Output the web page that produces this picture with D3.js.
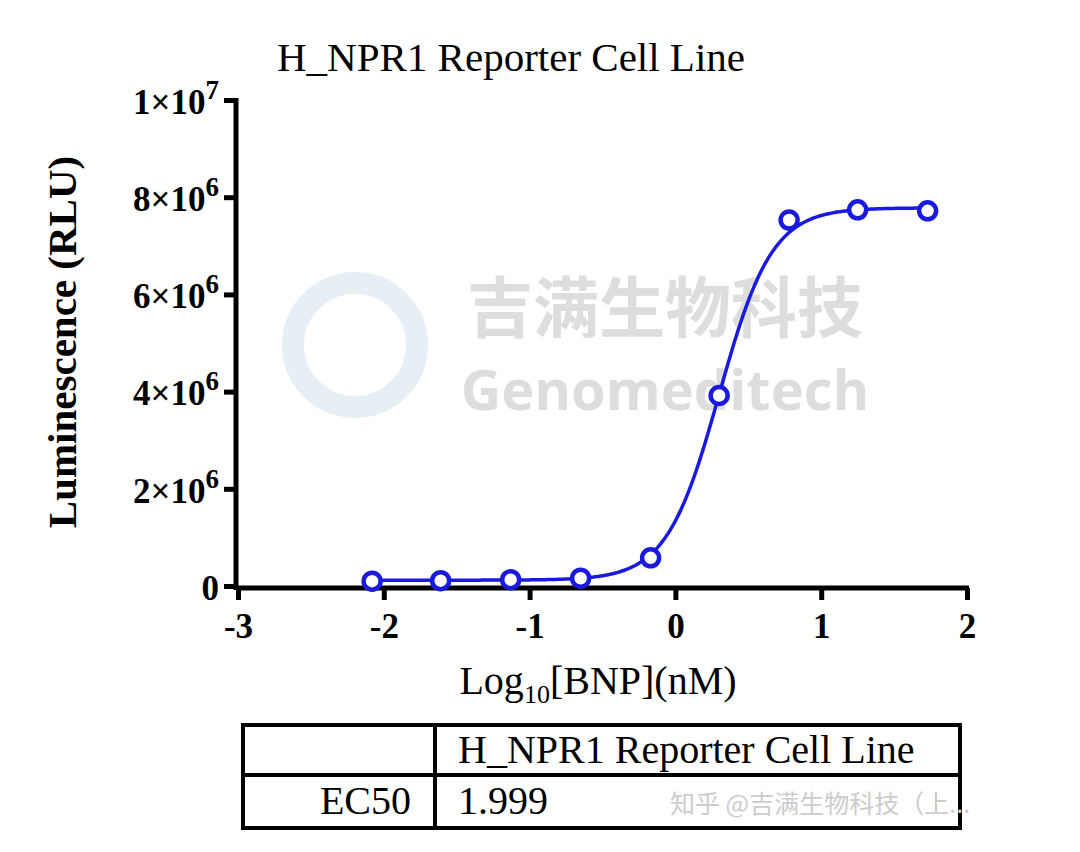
<!DOCTYPE html><html><head><script src="https://cdn.jsdelivr.net/npm/d3@7"></script>
<style>body{margin:0;background:#fff}</style></head><body><svg id="c" width="1080" height="852"></svg>
<script>
const logConc=[-2.08,-1.61,-1.13,-0.65,-0.17,0.30,0.78,1.25,1.73];
const lum=[100000,110000,130000,160000,580000,3920000,7530000,7740000,7720000];
const fitParams={bottom:120000,top:7780000,logEC50:0.301,hill:2.4};
const xTicks=[-3,-2,-1,0,1,2];
const yTicks=[0,2e6,4e6,6e6,8e6,1e7];
const yTickMant=["0","2","4","6","8","1"];
const yTickExp=[null,"6","6","6","6","7"];
const svg=d3.select("#c"),F="'Liberation Serif',serif";
const x=d3.scaleLinear().domain([-3,2]).range([238,967]);
const y=d3.scaleLinear().domain([0,1e7]).range([586,100]);
svg.append("text").attr("x",665).attr("y",332).attr("text-anchor","middle").attr("font-family","'Noto Sans CJK SC'").attr("font-weight",700).attr("font-size",66).attr("fill","#ddd").text("吉满生物科技");
svg.append("text").attr("x",665).attr("y",410).attr("text-anchor","middle").attr("font-family","'Open Sans'").attr("font-weight",700).attr("font-size",56).attr("fill","#ddd").text("Genomeditech");
svg.append("circle").attr("cx",355).attr("cy",345).attr("r",62).attr("fill","none").attr("stroke","#e6f0f4").attr("stroke-width",22);
const gx=svg.append("g").attr("transform","translate(0,588)").call(d3.axisBottom(x).tickValues(xTicks).tickSize(12).tickFormat(d=>String(d)));
const gy=svg.append("g").attr("transform","translate(236,0)").call(d3.axisLeft(y).tickValues(yTicks).tickSize(12).tickFormat(()=>""));
[gx,gy].forEach(g=>{g.selectAll("path,line").attr("stroke","#000").attr("stroke-width",5);
 g.selectAll("text").attr("font-family",F).attr("font-weight",700).attr("font-size",35).attr("fill","#000");});
gx.select(".domain").attr("d","M236,0H969");
gy.select(".domain").attr("d","M0,98V590");
gx.selectAll("text").attr("dy","1.0em");
gy.selectAll(".tick text").each(function(d,i){
  const t=d3.select(this).attr("dy","0.38em").attr("dx","-2");
  if(yTickExp[i]){t.append("tspan").text(yTickMant[i]+"×10");t.append("tspan").attr("font-size",27).attr("dy",-15).text(yTickExp[i]);}
  else t.text(yTickMant[i]);
});
const f=v=>fitParams.bottom+(fitParams.top-fitParams.bottom)/(1+Math.pow(10,(fitParams.logEC50-v)*fitParams.hill));
const xs=d3.range(-2.08,1.7301,0.01);
svg.append("path").datum(xs).attr("d",d3.line().x(d=>x(d)).y(d=>y(f(d)))).attr("fill","none").attr("stroke","#1a1adf").attr("stroke-width",3.5);
svg.selectAll(".p").data(logConc).join("circle").attr("cx",d=>x(d)).attr("cy",(d,i)=>y(lum[i])).attr("r",8.5).attr("fill","#fff").attr("stroke","#1a1adf").attr("stroke-width",4.5);
svg.append("text").attr("x",511).attr("y",71).attr("text-anchor","middle").attr("font-family",F).attr("font-size",41).text("H_NPR1 Reporter Cell Line");
const xl=svg.append("text").attr("x",598).attr("y",694).attr("text-anchor","middle").attr("font-family",F).attr("font-size",40);
xl.append("tspan").text("Log");xl.append("tspan").attr("font-size",26).attr("dy",9).text("10");xl.append("tspan").attr("dy",-9).text("[BNP](nM)");
svg.append("text").attr("transform","translate(76,342) rotate(-90)").attr("text-anchor","middle").attr("font-family",F).attr("font-weight",700).attr("font-size",41).text("Luminescence (RLU)");
svg.append("rect").attr("x",243).attr("y",725).attr("width",717).attr("height",103).attr("fill","none").attr("stroke","#000").attr("stroke-width",4);
svg.append("line").attr("x1",435).attr("x2",435).attr("y1",725).attr("y2",828).attr("stroke","#000").attr("stroke-width",4);
svg.append("line").attr("x1",243).attr("x2",960).attr("y1",775).attr("y2",775).attr("stroke","#000").attr("stroke-width",4);
svg.append("text").attr("x",458).attr("y",763).attr("font-family",F).attr("font-size",40).text("H_NPR1 Reporter Cell Line");
svg.append("text").attr("x",411).attr("y",814).attr("text-anchor","end").attr("font-family",F).attr("font-size",40).text("EC50");
svg.append("text").attr("x",458).attr("y",814).attr("font-family",F).attr("font-size",40).text("1.999");
svg.append("text").attr("x",670).attr("y",813).attr("font-family","'Noto Sans CJK SC'").attr("font-size",25).attr("fill","#ccc").text("知乎 @吉满生物科技（上...");
</script></body></html>
